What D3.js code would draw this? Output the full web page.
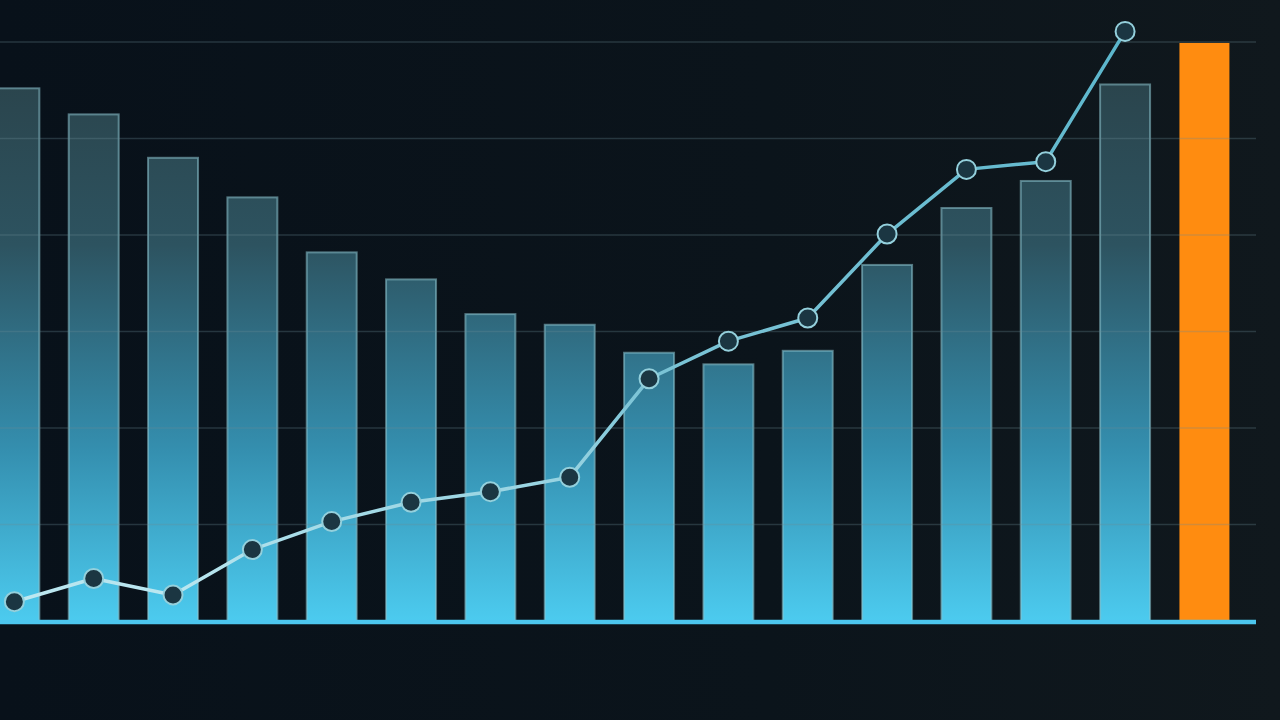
<!DOCTYPE html>
<html><head><meta charset="utf-8">
<script src="https://cdn.jsdelivr.net/npm/d3@7"></script>
<style>html,body{margin:0;padding:0;background:#0a1219;overflow:hidden}</style>
</head><body>
<svg id="c" width="1280" height="720"></svg>
<script>
const categories = ["1","2","3","4","5","6","7","8","9","10","11","12","13","14","15","16"];
const barValues = [5.52,5.25,4.80,4.39,3.82,3.54,3.18,3.07,2.78,2.66,2.80,3.69,4.28,4.56,5.56,5.99];
const lineValues = [0.20,0.44,0.27,0.74,1.03,1.23,1.34,1.49,2.51,2.90,3.14,4.01,4.68,4.76,6.11];
const gridTicks = [1,2,3,4,5,6];
const highlightIndex = 15;

const svg = d3.select("#c");
const W = 1280, H = 720;
const defs = svg.append("defs");

const bg = defs.append("linearGradient").attr("id","bg").attr("x1","0").attr("x2","1").attr("y1","0").attr("y2","0");
bg.append("stop").attr("offset","0").attr("stop-color","#08111a");
bg.append("stop").attr("offset","0.6").attr("stop-color","#0b141b");
bg.append("stop").attr("offset","1").attr("stop-color","#10181d");
svg.append("rect").attr("width",W).attr("height",H).attr("fill","url(#bg)");

const x = d3.scaleBand().domain(categories).range([-25.3, 1244.1]).paddingInner(0.37).paddingOuter(0.185);
const y = d3.scaleLinear().domain([0,6]).range([621,42]);

const bg2 = defs.append("linearGradient").attr("id","barg").attr("gradientUnits","userSpaceOnUse")
  .attr("x1",0).attr("x2",0).attr("y1",y(6)).attr("y2",y(0));
bg2.append("stop").attr("offset","0").attr("stop-color","#2a4148");
bg2.append("stop").attr("offset","0.35").attr("stop-color","#2d5360");
bg2.append("stop").attr("offset","0.7").attr("stop-color","#348eae");
bg2.append("stop").attr("offset","1").attr("stop-color","#4ccbef");

const lg = defs.append("linearGradient").attr("id","lineg").attr("gradientUnits","userSpaceOnUse")
  .attr("x1",0).attr("x2",0).attr("y1",y(6)).attr("y2",y(0));
lg.append("stop").attr("offset","0").attr("stop-color","#5bb6cc");
lg.append("stop").attr("offset","0.6").attr("stop-color","#7cc4d6");
lg.append("stop").attr("offset","1").attr("stop-color","#c4ecf4");

// bars
svg.append("g").selectAll("rect").data(barValues).join("rect")
  .attr("x",(d,i)=>x(categories[i]))
  .attr("width",x.bandwidth())
  .attr("y",d=>y(d))
  .attr("height",d=>y(0)-y(d))
  .attr("fill",(d,i)=> i===highlightIndex ? "#ff8c10" : "url(#barg)")
  .attr("stroke",(d,i)=> i===highlightIndex ? "none" : "#8ec6d2")
  .attr("stroke-opacity",0.55)
  .attr("stroke-width",2);

// grid lines (drawn over bars, faint)
svg.append("g").selectAll("line").data(gridTicks).join("line")
  .attr("x1",0).attr("x2",1256)
  .attr("y1",d=>y(d)).attr("y2",d=>y(d))
  .attr("stroke","#6a8a94").attr("stroke-opacity",0.3).attr("stroke-width",1.5);

// baseline
svg.append("line").attr("x1",0).attr("x2",1256).attr("y1",y(0)+1).attr("y2",y(0)+1)
  .attr("stroke","#4cc6ee").attr("stroke-width",4.5);

// line
const cx = i => x(categories[i]) + x.bandwidth()/2;
const line = d3.line().x((d,i)=>cx(i)).y(d=>y(d));
svg.append("path").datum(lineValues).attr("d",line)
  .attr("fill","none").attr("stroke","url(#lineg)").attr("stroke-width",3.5)
  .attr("stroke-linejoin","round");

svg.append("g").selectAll("circle").data(lineValues).join("circle")
  .attr("cx",(d,i)=>cx(i)).attr("cy",d=>y(d)).attr("r",9.5)
  .attr("fill","#1b3642").attr("stroke","#94d0dc").attr("stroke-width",2);
</script>
</body></html>
